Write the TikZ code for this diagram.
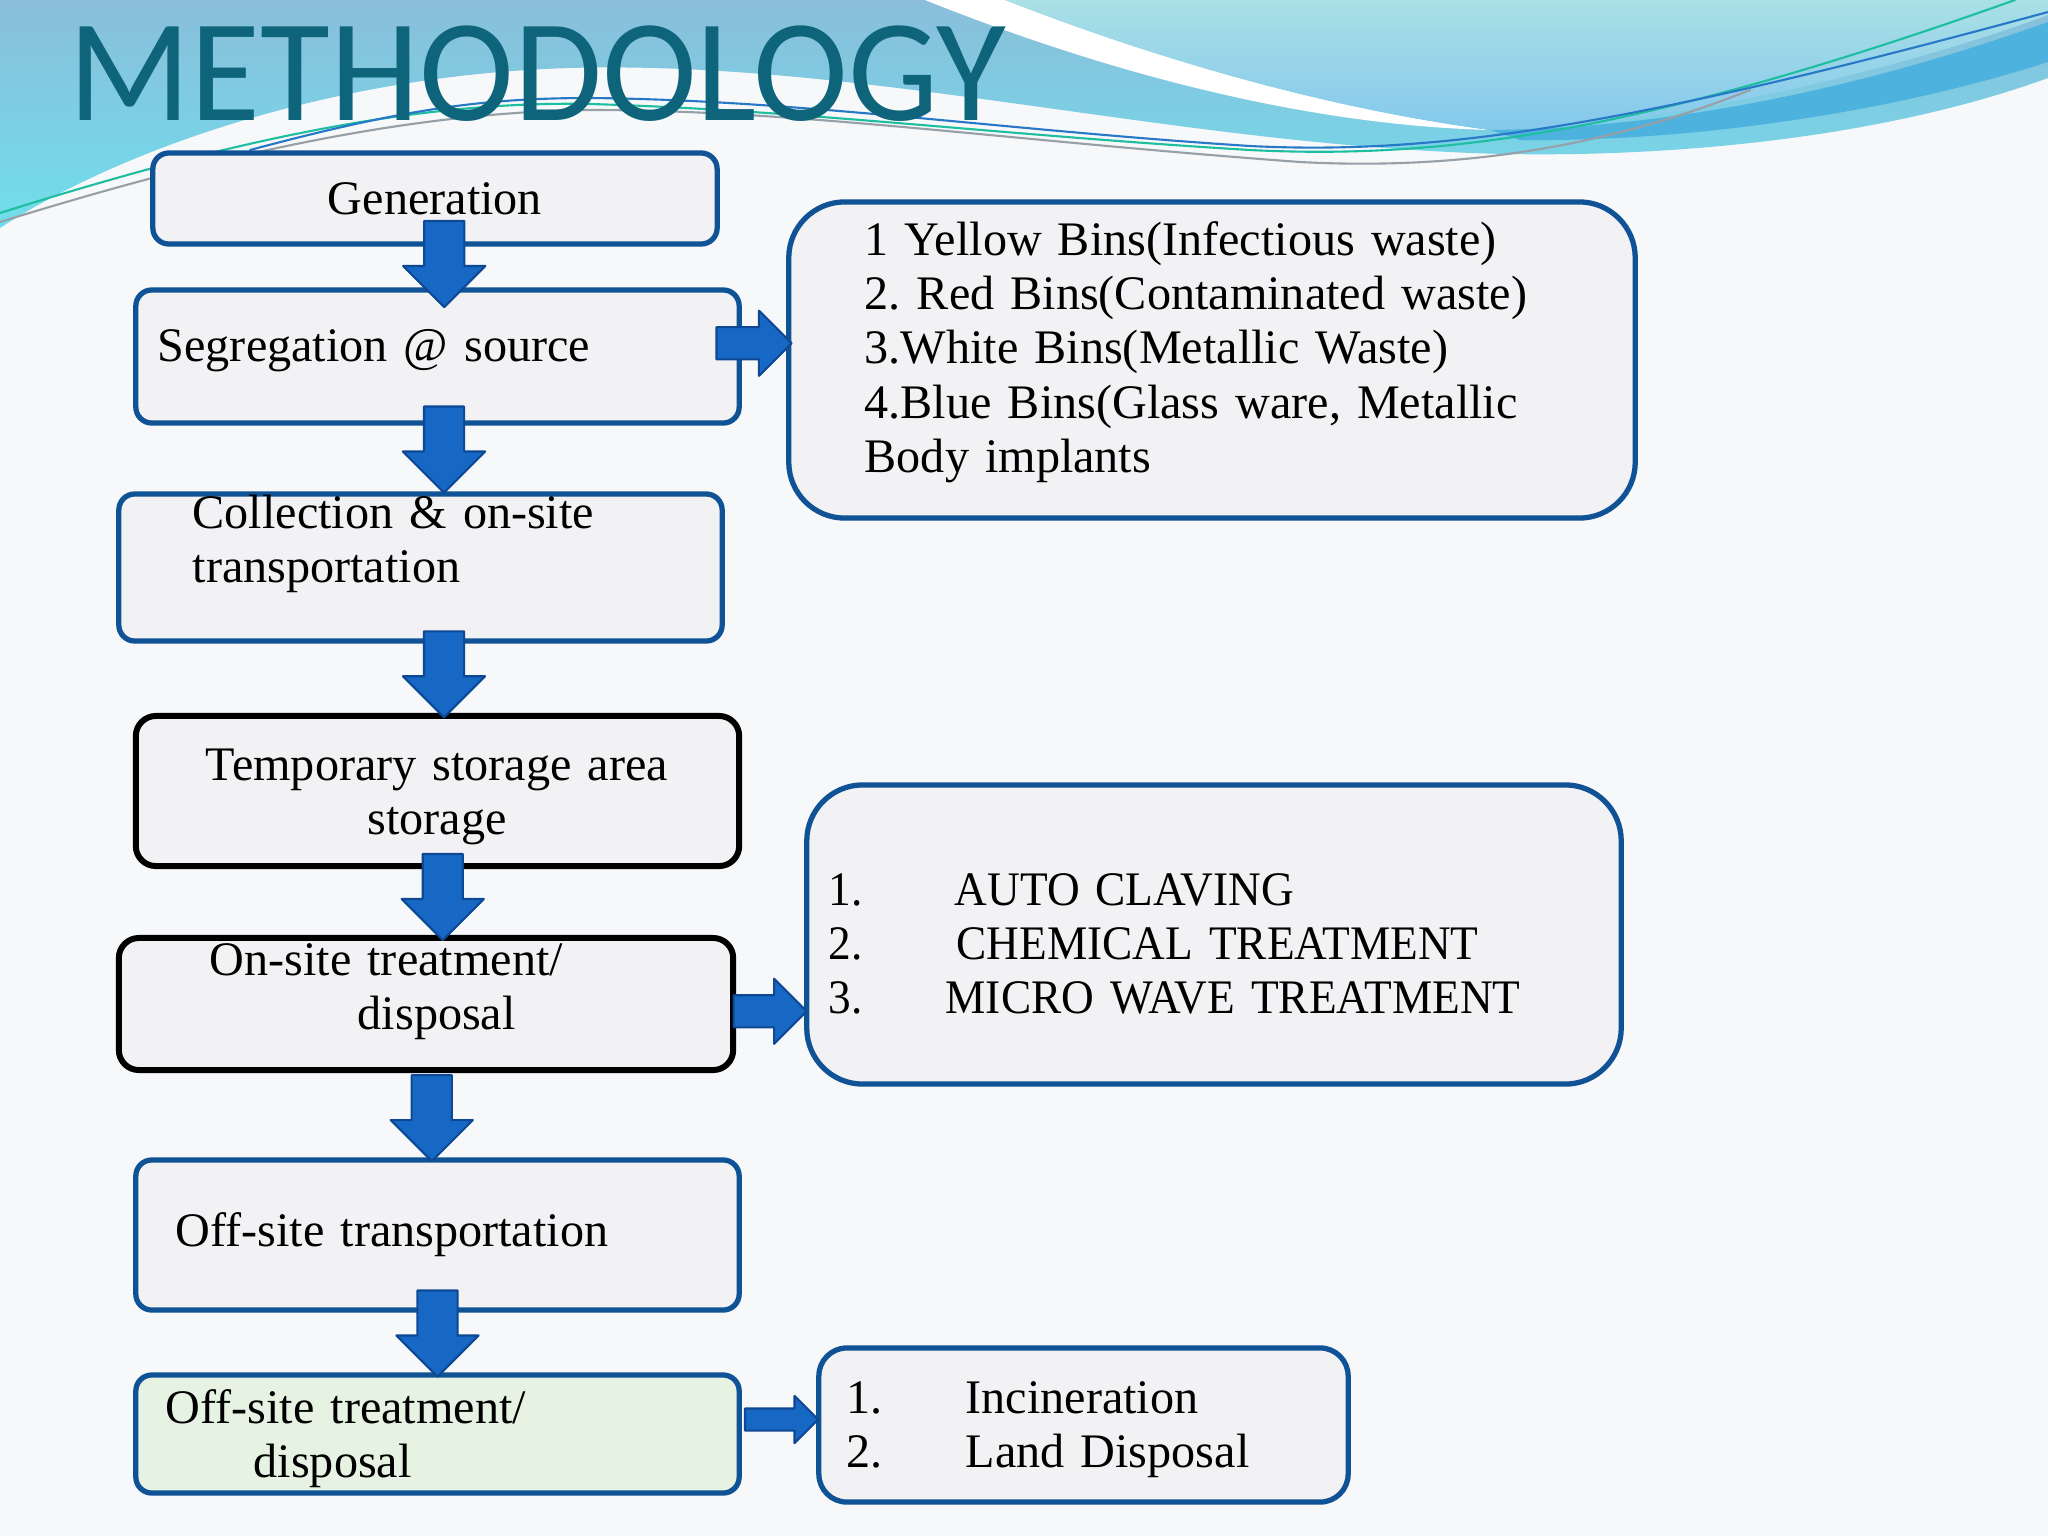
\documentclass[tikz,border=0pt]{standalone}
\usepackage{fontspec}
\setmainfont{Liberation Serif}
\newfontfamily\titrefont[FakeStretch=0.98]{Carlito}
\newfontfamily\serrefont[FakeStretch=0.94]{Liberation Serif}
\usetikzlibrary{shapes.arrows}

\definecolor{fond}{RGB}{247,248,250}
\definecolor{bleubord}{RGB}{16,82,150}
\definecolor{gris}{RGB}{242,242,244}
\definecolor{vert}{RGB}{230,242,226}
\definecolor{bleufleche}{RGB}{22,104,196}
\definecolor{bordfleche}{RGB}{14,72,148}
\definecolor{bleutitre}{RGB}{14,100,122}
\definecolor{vague1}{RGB}{138,190,218}
\definecolor{vague2}{RGB}{112,222,236}
\definecolor{vague3}{RGB}{170,224,230}
\definecolor{vague4}{RGB}{132,200,236}
\definecolor{bande}{RGB}{78,178,222}
\definecolor{ligneverte}{RGB}{30,190,160}
\definecolor{lignebleue}{RGB}{40,120,200}
\definecolor{lignegrise}{RGB}{150,160,166}

\newcommand{\corps}{\fontsize{13.7}{15.45}\selectfont\frenchspacing\fontdimen2\font=0.16em\relax}
\newcommand{\corpsserre}{\serrefont\corps}

\begin{document}
\begin{tikzpicture}[line cap=round,line join=round,x=0.01cm,y=-0.01cm,
	boite/.style={draw=bleubord, line width=1.5pt, fill=gris, rounded corners=0.16cm, inner sep=0pt},
	boitenoire/.style={boite, draw=black, line width=1.7pt, rounded corners=0.2cm},
	grande/.style={boite, rounded corners=0.56cm},
	texte/.style={inner sep=0pt, font=\corps, text width=7.6cm, align=left, anchor=base west},
	flechebas/.style={single arrow, shape border rotate=270, draw=bordfleche, fill=bleufleche, line width=0.6pt, inner sep=0.19cm, minimum height=0.86cm, single arrow head extend=0.21cm},
	flechedroite/.style={single arrow, draw=bordfleche, fill=bleufleche, line width=0.6pt, inner sep=0.15cm, minimum height=0.75cm, single arrow head extend=0.165cm}]
		% fond
		\fill[fond] (0,0) rectangle (2048,1536);
		\useasboundingbox (0,0) rectangle (2048,1536);
		% vagues du haut
		\shade[top color=vague1, bottom color=vague2] (0,0) -- (2048,0) -- (2048,78)
			.. controls (1850,150) and (1600,160) .. (1450,152)
			.. controls (1150,138) and (850,60) .. (570,68)
			.. controls (330,75) and (120,150) .. (0,228) -- cycle;
		\fill[white] (925,0) .. controls (1100,70) and (1300,125) .. (1490,130)
			.. controls (1300,105) and (1120,45) .. (1005,0) -- cycle;
		\shade[top color=vague3, bottom color=vague4] (1005,0) .. controls (1120,45) and (1300,105) .. (1490,130)
			.. controls (1650,130) and (1900,70) .. (2048,15) -- (2048,0) -- cycle;
		\fill[bande] (1490,130) .. controls (1700,128) and (1900,75) .. (2048,22) -- (2048,62)
			.. controls (1900,110) and (1700,142) .. (1520,140) -- cycle;
		% lignes fines
		\draw[ligneverte, line width=0.6pt] (0,213) .. controls (200,150) and (400,100) .. (590,104)
			.. controls (800,110) and (1000,135) .. (1250,150) .. controls (1450,160) and (1650,130) .. (2015,0);
		\draw[lignebleue, line width=0.6pt] (250,150) .. controls (400,110) and (480,98) .. (590,98)
			.. controls (800,100) and (1000,130) .. (1250,146) .. controls (1450,156) and (1650,120) .. (2048,12);
		\draw[lignegrise, line width=0.6pt] (0,222) .. controls (200,160) and (400,112) .. (590,110)
			.. controls (800,110) and (1000,140) .. (1300,162) .. controls (1450,170) and (1600,150) .. (1750,90);
		% titre
		\node[anchor=base west, inner sep=0pt, text=bleutitre, font=\titrefont\fontsize{41.5}{45}\selectfont] (titre) at (68,120) {METHODOLOGY};
		% boites de gauche
		\node[boite, minimum width=5.64cm, minimum height=0.91cm] (gen) at (435,198.5) {};
		\node[boite, minimum width=6.03cm, minimum height=1.33cm] (seg) at (437.5,356.5) {};
		\node[boite, minimum width=6.03cm, minimum height=1.47cm] (coll) at (420.5,567.5) {};
		\node[boitenoire, minimum width=6.03cm, minimum height=1.50cm] (temp) at (437.5,791) {};
		\node[boitenoire, minimum width=6.14cm, minimum height=1.32cm] (site) at (426,1004) {};
		\node[boite, minimum width=6.03cm, minimum height=1.50cm] (transp) at (437.5,1235) {};
		\node[boite, fill=vert, minimum width=6.03cm, minimum height=1.18cm] (hors) at (437.5,1434) {};
		% boites de droite
		\node[grande, minimum width=8.46cm, minimum height=3.16cm] (bacs) at (1212,360) {};
		\node[grande, minimum width=8.14cm, minimum height=2.99cm] (trait) at (1214,934.5) {};
		\node[boite, rounded corners=0.28cm, minimum width=5.29cm, minimum height=1.54cm] (elim) at (1083.5,1425) {};
		% textes
		\node[texte, anchor=base, align=center, text width=5cm] (gentxt) at (435,214) {Generation};
		\node[texte] (segtxt) at (157,361) {Segregation @ source};
		\node[texte] (colltxt) at (192,528) {Collection \& on-site\\transportation};
		\node[texte, anchor=base, align=center, text width=5.6cm] (temptxt) at (437,780) {Temporary storage area\\storage};
		\node[texte] (sitetxt) at (209,975) {On-site treatment/\\\hspace*{1.48cm}disposal};
		\node[texte] (transptxt) at (175,1246) {Off-site transportation};
		\node[texte] (horstxt) at (165,1423) {Off-site treatment/\\\hspace*{0.88cm}disposal};
		\node[texte] (bacstxt) at (864,255) {1 Yellow Bins(Infectious waste)\\2. Red Bins(Contaminated waste)\\3.White Bins(Metallic Waste)\\4.Blue Bins(Glass ware, Metallic\\Body implants};
		\node[texte, font=\corpsserre] (traittxt) at (828,905) {\makebox[1.26cm][l]{1.}AUTO CLAVING\\\makebox[1.28cm][l]{2.}CHEMICAL TREATMENT\\\makebox[1.17cm][l]{3.}MICRO WAVE TREATMENT};
		\node[texte] (elimtxt) at (846,1413) {\makebox[1.19cm][l]{1.}Incineration\\\makebox[1.19cm][l]{2.}Land Disposal};
		% fleches vers le bas
		\path (gen.south) -- (seg.north) node[flechebas, midway, xshift=0.08cm, yshift=0.13cm] (f1) {};
		\path (seg.south) -- (coll.north) node[flechebas, midway, xshift=0.15cm, yshift=0.19cm] (f2) {};
		\path (coll.south) -- (temp.north) node[flechebas, midway, xshift=0.15cm, yshift=0.14cm] (f3) {};
		\path (temp.south) -- (site.north) node[flechebas, midway, xshift=0.11cm, yshift=0.15cm] (f4) {};
		\path (site.south) -- (transp.north) node[flechebas, midway, yshift=0.07cm] (f5) {};
		\path (transp.south) -- (hors.north) node[flechebas, midway, yshift=0.19cm] (f6) {};
		% fleches vers la droite
		\path (seg.east) -- (bacs.west) node[flechedroite, midway, xshift=-0.18cm, yshift=0.15cm] (d1) {};
		\path (site.east) -- (trait.west) node[flechedroite, midway, xshift=-0.08cm, yshift=-0.42cm, minimum height=0.73cm] (d2) {};
		\path (hors.east) -- (elim.west) node[flechedroite, midway, xshift=-0.03cm, yshift=0.10cm, inner sep=0.10cm, minimum height=0.73cm, single arrow head extend=0.125cm] (d3) {};
\end{tikzpicture}
\end{document}
